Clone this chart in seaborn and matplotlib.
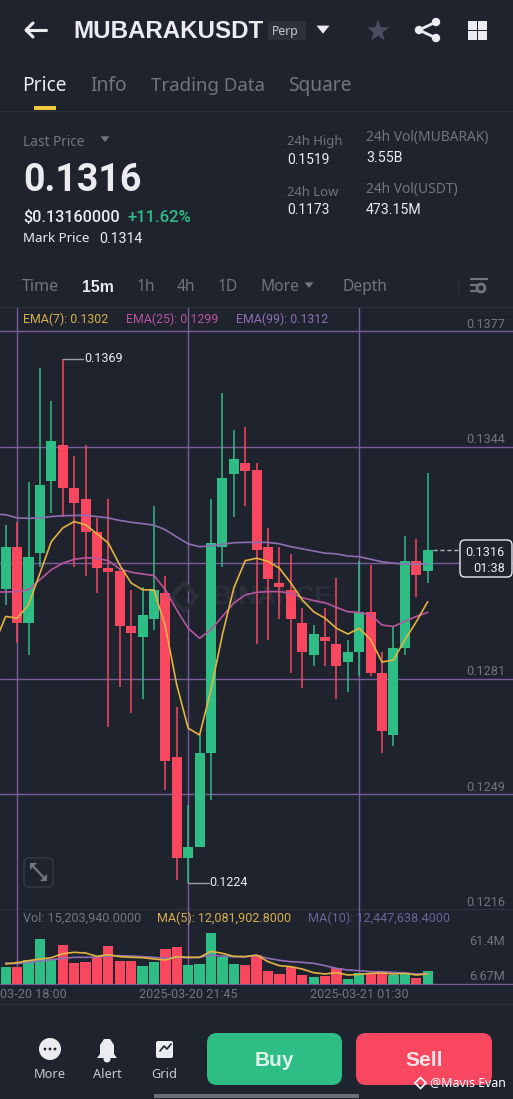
import numpy as np
import pandas as pd
import matplotlib
matplotlib.use('Agg')
import matplotlib.pyplot as plt
import seaborn as sns
from matplotlib.patches import FancyBboxPatch, Circle, Polygon, Rectangle, RegularPolygon

# candles
opens = [.13053, .13171, .12960, .13153, .13354, .13454, .13334, .13303, .13213, .13112,
         .13102, .12951, .12921, .12970, .13042, .12587, .12304, .12335, .12596, .13171,
         .13374, .13403, .13385, .13171, .13071, .13051, .12960, .12870, .12919, .12900,
         .12850, .12879, .12990, .12819, .12647, .12890, .13132, .13102]
closes = [.13171, .12960, .13142, .13343, .13466, .13334, .13292, .13213, .13111, .13101,
          .12951, .12930, .12981, .13051, .12576, .12304, .12334, .12596, .13181, .13363,
          .13415, .13383, .13162, .13081, .13060, .12969, .12879, .12928, .12909, .12839,
          .12877, .12988, .12819, .12657, .12890, .13132, .13091, .13162]
highs = [.13232, .13241, .13352, .13668, .13577, .13694, .13424, .13454, .13250, .13303,
         .13112, .13051, .13060, .13283, .13090, .12726, .12453, .12647, .13303, .13598,
         .13496, .13505, .13403, .13223, .13171, .13151, .13001, .12953, .13001, .13083,
         .12910, .13130, .13120, .12879, .12947, .13201, .13192, .13376]
lows = [.13009, .12903, .12870, .13114, .13264, .13255, .13114, .13090, .13042, .12669,
        .12780, .12708, .12748, .12940, .12494, .12244, .12236, .12335, .12466, .13114,
        .13253, .13285, .12901, .12910, .12969, .12819, .12779, .12839, .12839, .12748,
        .12768, .12810, .12810, .12596, .12617, .12870, .13032, .13070]

# moving averages start one candle left of the screen
ema7 = [.12900, .12977, .12972, .13009, .13097, .13185, .13223, .13241, .13232, .13207,
        .13181, .13120, .13070, .13051, .13051, .12949, .12786, .12666, .12647, .12773,
        .12926, .13056, .13132, .13139, .13130, .13111, .13070, .13023, .12990, .12972,
        .12944, .12928, .12944, .12912, .12850, .12856, .12912, .12962, .13018]
ema25 = [.13045, .13045, .13046, .13051, .13079, .13107, .13125, .13136, .13140, .13139,
         .13132, .13109, .13100, .13095, .13091, .13051, .12995, .12944, .12916, .12940,
         .12977, .13014, .13037, .13044, .13046, .13046, .13042, .13029, .13021, .13015,
         .13002, .12990, .12988, .12981, .12953, .12949, .12963, .12977, .12988]
ema99 = [.13262, .13260, .13251, .13250, .13251, .13255, .13257, .13258, .13258, .13255,
         .13251, .13244, .13239, .13235, .13231, .13218, .13198, .13179, .13171, .13173,
         .13178, .13182, .13183, .13183, .13183, .13179, .13171, .13165, .13159, .13153,
         .13151, .13145, .13143, .13136, .13129, .13125, .13123, .13123, .13122]

# volume, in millions
volume = [20.4, 20.8, 28.8, 53.6, 29.6, 46.4, 25.6, 26.4, 32.8, 45.6,
          27.2, 27.2, 21.2, 26.8, 42.4, 44.0, 23.2, 24.0, 61.2, 32.8,
          24.0, 23.2, 34.8, 15.6, 12.4, 20.4, 10.8, 8.0, 9.2, 18.8,
          6.4, 12.8, 12.4, 14.8, 10.4, 12.0, 7.2, 15.2]
vol_ma5 = [24.0, 25.6, 28.0, 30.0, 31.6, 36.4, 38.0, 37.2, 33.2, 35.2,
           32.8, 32.0, 31.6, 30.0, 28.8, 32.8, 32.0, 32.0, 39.2, 36.8,
           33.2, 32.8, 34.8, 26.8, 22.0, 20.8, 18.0, 13.6, 12.0, 13.6,
           10.8, 11.6, 12.8, 13.2, 12.0, 12.8, 10.8, 12.1]
vol_ma10 = [25.2, 24.4, 26.0, 27.6, 29.2, 30.8, 32.0, 32.0, 32.4, 33.6,
            34.0, 33.6, 32.8, 32.0, 30.8, 32.0, 31.6, 32.0, 34.8, 33.6,
            32.8, 32.8, 34.0, 30.8, 28.4, 26.8, 26.0, 24.8, 22.0, 18.8,
            16.8, 16.0, 14.8, 14.8, 14.0, 13.2, 12.0, 12.4]

grid_prices = [.1377, .13448, .13126, .12804, .12482, .1216]
price_ticks = [.1377, .13448, .12804, .12482, .1216]
price_labels = ['0.1377', '0.1344', '0.1281', '0.1249', '0.1216']
time_positions = [1, 16, 31]
time_labels = ['2025-03-20 21:45', '2025-03-21 01:30']

BG = '#1e232e'
GRID = '#7a5c9c'
GREEN = '#2ebd85'
RED = '#f8475f'
YELLOW = '#e3b341'
MAGENTA = '#b8559f'
PURPLE = '#8f6fb3'
GRAY = '#6f7682'
LIGHT = '#eaecef'

sns.set_theme(style='dark')
plt.rcParams['font.family'] = ['Noto Sans', 'DejaVu Sans']
plt.rcParams['axes.unicode_minus'] = False

W, H = 513, 1099
fig = plt.figure(figsize=(W / 100, H / 100), dpi=100, facecolor=BG)


def px_axes(top, bottom):
    return fig.add_axes([0, 1 - bottom / H, 1, (bottom - top) / H], facecolor=BG)


def style_chart(ax):
    for s in ax.spines.values():
        s.set_visible(False)
    ax.set_xlim(-0.5, 44.48)
    ax.set_xticks(time_positions)
    ax.set_xticklabels([])
    ax.set_yticklabels([])
    ax.tick_params(length=0)
    ax.set_xlabel('')
    ax.set_ylabel('')
    ax.grid(True, color=GRID, lw=1.0)
    ax.set_axisbelow(True)


candles = pd.DataFrame({'open': opens, 'close': closes, 'high': highs, 'low': lows, 'volume': volume})
candles['i'] = range(len(candles))
candles['up'] = candles['close'] >= candles['open']
candles['color'] = np.where(candles['up'], GREEN, RED)

# price panel
ax = px_axes(307, 910)
ax.vlines(candles['i'], candles['low'], candles['high'], colors=candles['color'], lw=1.1, zorder=2)
ax.bar(candles['i'], (candles['close'] - candles['open']).abs(),
       bottom=candles[['open', 'close']].min(axis=1), width=0.88, color=candles['color'],
       edgecolor='none', linewidth=0, zorder=3)

ema = pd.DataFrame({'i': np.arange(-1, len(candles)), 'ema7': ema7, 'ema25': ema25, 'ema99': ema99})
sns.lineplot(data=ema, x='i', y='ema99', color=PURPLE, lw=1.2, ax=ax, zorder=4)
sns.lineplot(data=ema, x='i', y='ema25', color=MAGENTA, lw=1.2, ax=ax, zorder=5)
sns.lineplot(data=ema, x='i', y='ema7', color=YELLOW, lw=1.2, ax=ax, zorder=6)

ax.set_ylim(.12160, .13838)
ax.set_yticks(grid_prices)
style_chart(ax)
ax.text(272 / W, 1 - 290 / 603, 'BINANCE', transform=ax.transAxes, color='#2a2f3a', fontsize=19,
        fontweight='bold', family='Liberation Sans', ha='center', va='center', zorder=1)
ax.add_patch(RegularPolygon((184 / W, 1 - 290 / 603), 4, radius=0.024, transform=ax.transAxes,
                            fc='none', ec='#2a2f3a', lw=3, zorder=1))

for p, lab in zip(price_ticks, price_labels):
    ax.annotate(lab, xy=(1, p), xycoords=ax.get_yaxis_transform(), xytext=(-5.8, 5.2),
                textcoords='offset points', ha='right', va='center',
                color=GRAY, fontsize=9.1, family='Roboto')

# max and min markers
hi = int(np.argmax(highs))
lo = int(np.argmin(lows))
ax.plot([hi, hi + 1.8], [highs[hi], highs[hi]], color='#9aa0a8', lw=1, zorder=7)
ax.text(hi + 1.85, highs[hi], f'{highs[hi]:.4f}', color=LIGHT, fontsize=9, family='Roboto', va='center')
ax.plot([lo, lo + 1.8], [lows[lo], lows[lo]], color='#9aa0a8', lw=1, zorder=7)
ax.text(lo + 1.85, lows[lo], f'{lows[lo]:.4f}', color=LIGHT, fontsize=9, family='Roboto', va='center')

# volume panel
vax = px_axes(910, 985)
sns.barplot(data=candles, x='i', y='volume', hue='color', palette={GREEN: GREEN, RED: RED},
            native_scale=True, dodge=False, width=0.9, legend=False, ax=vax, zorder=3,
            saturation=1, edgecolor='none', linewidth=0)
sns.lineplot(x=candles['i'], y=vol_ma10, color=PURPLE, lw=1.2, ax=vax, zorder=4)
sns.lineplot(x=candles['i'], y=vol_ma5, color=YELLOW, lw=1.2, ax=vax, zorder=5)
vax.set_ylim(-1.2, 88.8)
vax.set_yticks([0])
style_chart(vax)

# everything around the chart is laid out in screen pixels
ui = fig.add_axes([0, 0, 1, 1], facecolor='none', zorder=10)
ui.set_xlim(0, W)
ui.set_ylim(H, 0)
ui.axis('off')


def label(x, y, s, color=GRAY, size=9.6, weight='normal', ha='left', family=None):
    ui.text(x, y, s, color=color, fontsize=size, fontweight=weight, ha=ha, va='center',
            family=family or ['Noto Sans', 'DejaVu Sans'])


def tri(x, y, size, color):
    ui.add_patch(Polygon([[x - size, y - size * 0.6], [x + size, y - size * 0.6], [x, y + size * 0.65]],
                         closed=True, fc=color, ec='none'))


# header
ui.plot([26, 46], [30, 30], color=LIGHT, lw=2.2, solid_capstyle='round')
ui.plot([33, 26, 33], [23, 30, 37], color=LIGHT, lw=2.2, solid_capstyle='round')
label(73, 31, 'MUBARAKUSDT', LIGHT, 17.4, 'bold', family='Liberation Sans')
ui.add_patch(Rectangle((268, 21), 38, 19, fc='#2b303b', ec='none'))
label(272, 32, 'Perp', '#c5c8ce', 8.8)
tri(323, 29.5, 6.5, LIGHT)
ang = np.deg2rad(np.arange(10) * 36 - 90)
rad = np.where(np.arange(10) % 2 == 0, 11.5, 4.8)
ui.add_patch(Polygon(np.c_[378 + rad * np.cos(ang), 31 + rad * np.sin(ang)], fc='#474d5c', ec='none'))
share = [(436, 22), (419, 30), (436, 38)]
ui.plot([436, 419, 436], [22, 30, 38], color=LIGHT, lw=2)
for c in share:
    ui.add_patch(Circle(c, 4.2, fc=LIGHT, ec='none'))
for gx, gy in [(468, 21), (478, 21), (468, 31), (478, 31)]:
    ui.add_patch(Rectangle((gx, gy), 8.5, 8.5, fc=LIGHT, ec='none'))

# tabs
label(22, 86, 'Price', LIGHT, 13.8, 'medium')
label(90, 86, 'Info', GRAY, 13.8, 'medium')
label(151, 86, 'Trading Data', GRAY, 13.4, 'medium')
label(288, 86, 'Square', GRAY, 13.8, 'medium')
ui.add_patch(Rectangle((34, 106), 22, 4, fc='#f0c93c', ec='none'))
ui.plot([0, W], [110.5, 110.5], color='#2b303b', lw=1)

# price summary
label(23, 142.5, 'Last Price', GRAY, 9.8)
tri(105, 139, 4.5, GRAY)
label(23, 180.5, '0.1316', LIGHT, 27, 'bold', family='Roboto')
label(23, 217.5, '$0.13160000', LIGHT, 11.7, 'medium', family='Roboto')
label(128, 217.5, '+11.62%', GREEN, 12, 'medium', family='Roboto')
label(23, 239, 'Mark Price', LIGHT, 9.6)
label(99, 239, '0.1314', LIGHT, 10.2, family='Roboto')
label(287, 141, '24h High', GRAY, 9.4)
label(287, 159.5, '0.1519', LIGHT, 10, family='Roboto')
label(287, 192, '24h Low', GRAY, 9.4)
label(287, 210.5, '0.1173', LIGHT, 10, family='Roboto')
label(366, 138, '24h Vol(MUBARAK)', GRAY, 9.9)
label(366, 158.5, '3.55B', LIGHT, 10.2, family='Roboto')
label(366, 190, '24h Vol(USDT)', GRAY, 9.9)
label(366, 209.5, '473.15M', LIGHT, 10.2, family='Roboto')

# time frame row
label(22, 287, 'Time', GRAY, 11.6)
label(82, 287, '15m', LIGHT, 11.4, 'bold', family='Liberation Sans')
label(137, 287, '1h', GRAY, 11.2)
label(177, 287, '4h', GRAY, 11.2)
label(218, 287, '1D', GRAY, 11.2)
label(260, 287, 'More', GRAY, 11.2)
tri(309, 285, 4.5, GRAY)
label(342, 287, 'Depth', GRAY, 11.2)
ui.plot([458, 458], [278, 294], color='#2b303b', lw=1)
for yy, x0, x1 in [(279, 471, 487), (285, 471, 476), (291, 471, 476)]:
    ui.plot([x0, x1], [yy, yy], color=GRAY, lw=1.6)
ui.add_patch(Circle((481, 288), 4, fc='none', ec=GRAY, lw=2))
ui.plot([0, W], [307, 307], color='#2b303b', lw=1)

# chart legends
label(23, 319, 'EMA(7): 0.1302', '#d8b04a', 8.9, family='Roboto')
label(126, 319, 'EMA(25): 0.1299', MAGENTA, 8.9, family='Roboto')
label(236, 319, 'EMA(99): 0.1312', PURPLE, 8.9, family='Roboto')

# current price tag
ui.plot([433, 459], [550, 550], color='#aeb4bc', lw=1, ls=(0, (3, 2)))
ui.add_patch(FancyBboxPatch((462, 542), 48, 33, boxstyle='round,pad=2,rounding_size=5', fc=BG, ec=LIGHT, lw=1))
label(505, 552, '0.1316', LIGHT, 9.2, ha='right', family='Roboto')
label(505, 568, '01:38', LIGHT, 9.2, ha='right', family='Roboto')

# expand button
ui.add_patch(FancyBboxPatch((25, 859), 27, 27, boxstyle='round,pad=1,rounding_size=5', fc=BG, ec='#333945', lw=1))
ui.plot([31, 46], [864, 880], color=GRAY, lw=1.6)
ui.add_patch(Polygon([[30, 863], [37, 863], [30, 870]], fc=GRAY, ec='none'))
ui.add_patch(Polygon([[47, 881], [40, 881], [47, 874]], fc=GRAY, ec='none'))

# volume legends
label(23, 918.5, 'Vol: 15,203,940.0000', GRAY, 9.1, family='Roboto')
label(157, 918.5, 'MA(5): 12,081,902.8000', '#d8b04a', 9, family='Roboto')
label(308, 918.5, 'MA(10): 12,447,638.4000', '#6f6296', 9.1, family='Roboto')
label(505, 941.5, '61.4M', GRAY, 9.1, ha='right', family='Roboto')
label(505, 977, '6.67M', GRAY, 9.1, ha='right', family='Roboto')
label(0, 995, '03-20 18:00', GRAY, 9.1, family='Roboto')
label(188.3, 995, time_labels[0], GRAY, 9.1, ha='center', family='Roboto')
label(359.5, 995, time_labels[1], GRAY, 9.1, ha='center', family='Roboto')
ui.plot([0, W], [1004, 1004], color='#2b303b', lw=1)

# bottom bar
ui.add_patch(Circle((50, 1049), 11, fc=LIGHT, ec='none'))
for dx in (-5, 0, 5):
    ui.add_patch(Circle((50 + dx, 1049), 1.4, fc=BG, ec='none'))
ui.add_patch(Polygon([[97, 1058], [100, 1054], [100, 1045], [104, 1039], [110, 1039], [114, 1045], [114, 1054],
                      [117, 1058]], fc=LIGHT, ec='none'))
ui.add_patch(Circle((107, 1059), 3.5, fc=LIGHT, ec='none'))
ui.add_patch(FancyBboxPatch((157, 1042), 15, 15, boxstyle='round,pad=1,rounding_size=2', fc=LIGHT, ec='none'))
ui.plot([160, 164, 167, 171], [1051, 1046, 1049, 1044], color=BG, lw=1.2)
label(50, 1075, 'More', '#c7cad0', 9.2, ha='center')
label(107, 1075, 'Alert', '#c7cad0', 9.2, ha='center')
label(164, 1075, 'Grid', '#c7cad0', 9.2, ha='center')
ui.add_patch(FancyBboxPatch((213, 1039), 123, 40, boxstyle='round,pad=6,rounding_size=10', fc=GREEN, ec='none'))
ui.add_patch(FancyBboxPatch((362, 1039), 124, 40, boxstyle='round,pad=6,rounding_size=10', fc='#f8475f', ec='none'))
label(274.5, 1061, 'Buy', '#dff5ec', 15, 'bold', ha='center', family='Liberation Sans')
label(424, 1061, 'Sell', '#fde3e6', 15, 'bold', ha='center', family='Liberation Sans')
ui.add_patch(RegularPolygon((420.5, 1083), 4, radius=5.5, fc='none', ec='white', lw=1.2))
label(430, 1083, '@Mavis Evan', 'white', 8.9)
ui.add_patch(Rectangle((154, 1094), 205, 3.5, fc='#6a6f78', ec='none'))

fig.savefig('out.png', dpi=100, facecolor=BG)
